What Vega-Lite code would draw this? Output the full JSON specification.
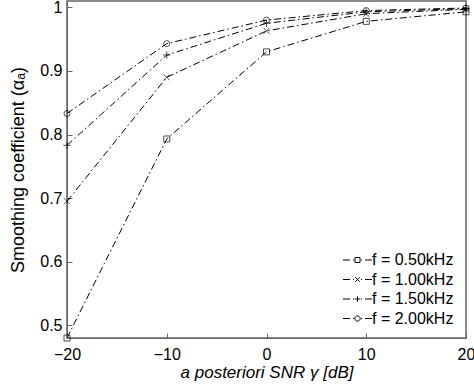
{
  "$schema": "https://vega.github.io/schema/vega-lite/v6.json",
  "width": 399,
  "height": 337,
  "autosize": "none",
  "padding": {"left": 67, "top": 1, "right": 8, "bottom": 50},
  "background": "white",
  "config": {
    "font": "Liberation Sans",
    "view": {"stroke": "#666", "strokeWidth": 1.5},
    "axis": {"grid": false, "domainColor": "#666", "tickColor": "#666", "labelColor": "black", "titleColor": "black", "labelFontSize": 16, "titleFontSize": 18, "titleFontWeight": "normal", "tickSize": -5, "labelPadding": 10, "labelFlush": false, "labelOverlap": false}
  },
  "data": {"values": [
    {"snr": -20, "a": 0.48, "f": "f = 0.50kHz"},
    {"snr": -10, "a": 0.793, "f": "f = 0.50kHz"},
    {"snr": 0, "a": 0.93, "f": "f = 0.50kHz"},
    {"snr": 10, "a": 0.978, "f": "f = 0.50kHz"},
    {"snr": 20, "a": 0.993, "f": "f = 0.50kHz"},
    {"snr": -20, "a": 0.695, "f": "f = 1.00kHz"},
    {"snr": -10, "a": 0.89, "f": "f = 1.00kHz"},
    {"snr": 0, "a": 0.963, "f": "f = 1.00kHz"},
    {"snr": 10, "a": 0.99, "f": "f = 1.00kHz"},
    {"snr": 20, "a": 0.997, "f": "f = 1.00kHz"},
    {"snr": -20, "a": 0.783, "f": "f = 1.50kHz"},
    {"snr": -10, "a": 0.925, "f": "f = 1.50kHz"},
    {"snr": 0, "a": 0.975, "f": "f = 1.50kHz"},
    {"snr": 10, "a": 0.993, "f": "f = 1.50kHz"},
    {"snr": 20, "a": 0.998, "f": "f = 1.50kHz"},
    {"snr": -20, "a": 0.833, "f": "f = 2.00kHz"},
    {"snr": -10, "a": 0.943, "f": "f = 2.00kHz"},
    {"snr": 0, "a": 0.98, "f": "f = 2.00kHz"},
    {"snr": 10, "a": 0.995, "f": "f = 2.00kHz"},
    {"snr": 20, "a": 0.999, "f": "f = 2.00kHz"}
  ]},
  "layer": [
    {
      "mark": {"type": "line", "color": "black", "strokeWidth": 1, "strokeDash": [7, 3, 1.5, 3], "clip": true},
      "encoding": {
        "x": {"field": "snr", "type": "quantitative", "scale": {"domain": [-20, 20], "nice": false}, "axis": {"values": [-20, -10, 0, 10, 20], "title": "a posteriori SNR γ  [dB]", "titleFontStyle": "italic", "titleFontSize": 17, "labelPadding": 13, "titlePadding": 2}},
        "y": {"field": "a", "type": "quantitative", "scale": {"domain": [0.48, 1.01], "nice": false, "zero": false}, "axis": {"values": [0.5, 0.6, 0.7, 0.8, 0.9, 1], "format": "~g", "title": "Smoothing coefficient (αₐ)", "titlePadding": 12}},
        "detail": {"field": "f"}
      }
    },
    {
      "mark": {"type": "point", "color": "black", "filled": false, "strokeWidth": 1, "size": 36},
      "encoding": {
        "x": {"field": "snr", "type": "quantitative"},
        "y": {"field": "a", "type": "quantitative"},
        "shape": {"field": "f", "type": "nominal", "legend": null, "scale": {"range": ["square", "M-1,-1L1,1M-1,1L1,-1", "M-1.2,0L1.2,0M0,-1.2L0,1.2", "circle"]}}
      }
    },
    {
      "mark": {"type": "point", "color": "black", "filled": false, "strokeWidth": 1, "opacity": 0},
      "encoding": {
        "x": {"field": "snr", "type": "quantitative"},
        "y": {"field": "a", "type": "quantitative"},
        "shape": {"field": "f", "type": "nominal", "scale": {"range": [
          "M-1,0L0,0M0.43,0L0.57,0M0.71,-0.36L1.43,-0.36L1.43,0.36L0.71,0.36Z M1.57,0L1.71,0M2.14,0L3.14,0",
          "M-1,0L0,0M0.43,0L0.57,0M0.75,-0.32L1.39,0.32M0.75,0.32L1.39,-0.32M1.57,0L1.71,0M2.14,0L3.14,0",
          "M-1,0L0,0M0.43,0L0.57,0M0.68,0L1.46,0M1.07,-0.39L1.07,0.39M1.57,0L1.71,0M2.14,0L3.14,0",
          "M-1,0L0,0M0.43,0L0.57,0M1.45,0A0.38,0.38 0 1,1 0.69,0A0.38,0.38 0 1,1 1.45,0M1.57,0L1.71,0M2.14,0L3.14,0"
        ]},
          "legend": {"title": null, "orient": "none", "legendX": 275, "legendY": 251, "labelFontSize": 16, "labelColor": "black", "symbolStrokeColor": "black", "symbolFillColor": "transparent", "symbolStrokeWidth": 1, "symbolOpacity": 1, "symbolSize": 196, "rowPadding": 3.5, "labelOffset": 14, "padding": 0}}
      }
    }
  ],
  "resolve": {"scale": {"shape": "independent"}}
}
